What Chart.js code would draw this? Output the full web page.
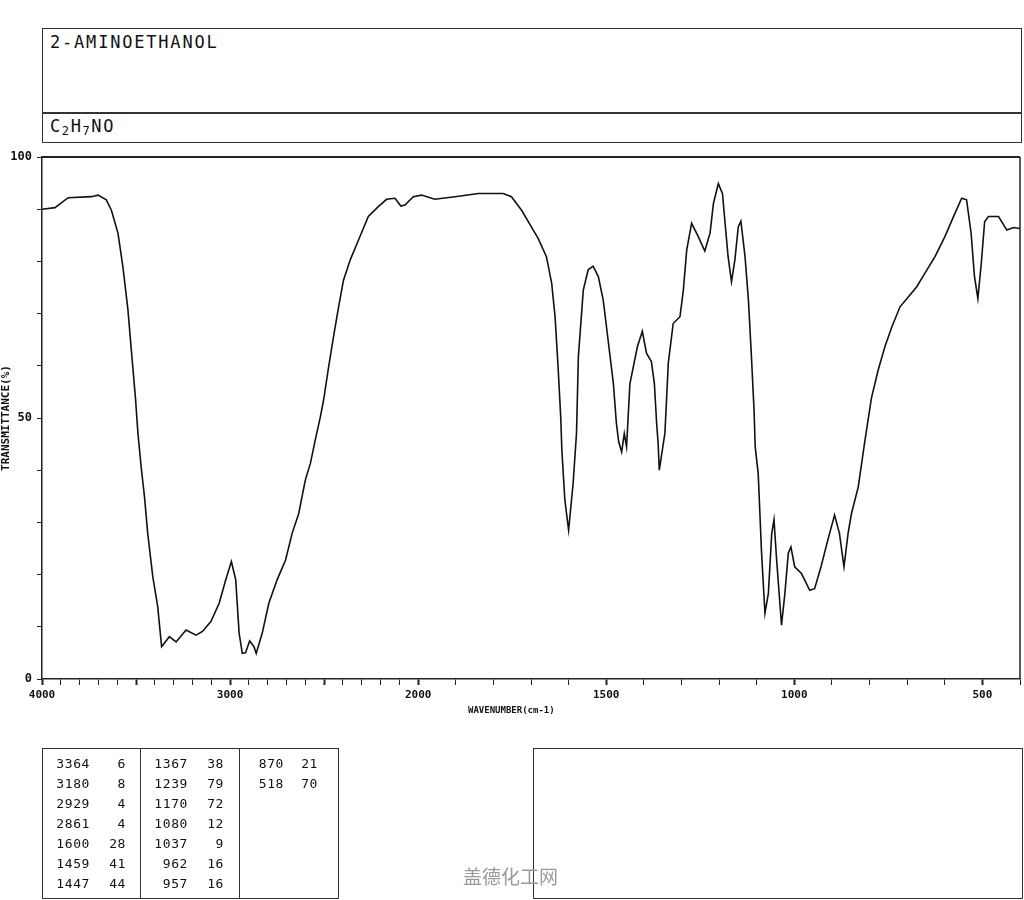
<!DOCTYPE html>
<html lang="en">
<head>
    <meta charset="UTF-8">
    <title>2-AMINOETHANOL IR</title>
    <script src="https://cdn.jsdelivr.net/npm/chart.js@4.4.0/dist/chart.umd.min.js"></script>
    <style>
        body {
            margin: 0;
            background: #fff;
            font-family: "DejaVu Sans Mono", monospace;
            color: #111;
        }
        .page {
            position: relative;
            width: 1024px;
            height: 900px;
            overflow: hidden;
        }
        .box {
            position: absolute;
            box-sizing: border-box;
            border: 1.5px solid #333;
        }
        .name {
            position: absolute;
            left: 50px;
            top: 32px;
            font-size: 17px;
            letter-spacing: 1.8px;
        }
        .formula {
            position: absolute;
            left: 50px;
            top: 116px;
            font-size: 17px;
            letter-spacing: 1.6px;
        }
        .formula sub {
            font-size: 12px;
            vertical-align: -3px;
        }
        #chart {
            position: absolute;
            left: 0;
            top: 0;
        }
        .xtitle {
            position: absolute;
            left: 468px;
            top: 705px;
            font-size: 9px;
            font-weight: bold;
        }
        .cell {
            position: absolute;
            font-size: 13px;
            letter-spacing: 0.6px;
            text-align: right;
            line-height: 14px;
        }
        .mark {
            position: absolute;
            left: 463px;
            top: 862px;
            font-family: "Noto Sans CJK SC", sans-serif;
            font-size: 19px;
            color: #9a9a9a;
        }
    </style>
</head>
<body>
    <div class="page">
        <div class="box" style="left:42px; top:28px; width:980px; height:86px;"></div>
        <div class="box" style="left:42px; top:112px; width:980px; height:31px;"></div>
        <div class="name">2-AMINOETHANOL</div>
        <div class="formula">C<sub>2</sub>H<sub>7</sub>NO</div>

        <canvas id="chart" width="1024" height="900"></canvas>
        <div class="xtitle">WAVENUMBER(cm-1)</div>

        <div class="box" style="left:42px; top:748px; width:297px; height:151px;"></div>
        <div class="box" style="left:140px; top:748px; width:100px; height:151px;"></div>
        <div class="box" style="left:533px; top:748px; width:490px; height:151px;"></div>
        <div id="peaks"></div>
        <div class="mark">盖德化工网</div>
    </div>

    <script>
        // 光谱数据
        const wavenumbers = [
            4000, 3931, 3861, 3737, 3702, 3658, 3631, 3596, 3570, 3543,
            3525, 3503, 3490, 3473, 3455, 3438, 3411, 3385, 3364, 3323,
            3287, 3234, 3181, 3147, 3102, 3058, 3023, 2993, 2970, 2952,
            2935, 2918, 2896, 2873, 2861, 2829, 2794, 2750, 2705, 2670,
            2635, 2600, 2573, 2547, 2520, 2503, 2476, 2450, 2423, 2397,
            2361, 2317, 2265, 2212, 2168, 2123, 2092, 2070, 2026, 1991,
            1956, 1902, 1840, 1774, 1752, 1725, 1699, 1681, 1659, 1645,
            1636, 1628, 1621, 1618, 1610, 1600, 1588, 1579, 1574, 1561,
            1548, 1535, 1521, 1508, 1495, 1481, 1473, 1467, 1459, 1452,
            1446, 1437, 1428, 1417, 1404, 1393, 1380, 1372, 1366, 1362,
            1359, 1344, 1335, 1322, 1304, 1295, 1286, 1273, 1255, 1238,
            1224, 1215, 1202, 1191, 1184, 1176, 1167, 1158, 1149, 1142,
            1131, 1122, 1114, 1107, 1104, 1096, 1087, 1078, 1069, 1060,
            1054, 1047, 1034, 1025, 1016, 1009, 999, 981, 959, 946,
            929, 911, 893, 880, 868, 857, 848, 830, 812, 795,
            777, 759, 741, 719, 697, 675, 653, 626, 600, 573,
            555, 542, 530, 521, 512, 503, 494, 484, 457, 435,
            417, 400
        ];
        const transmittance = [
            90.0, 90.3, 92.2, 92.4, 92.7, 91.8, 89.8, 85.4, 79.0, 70.7,
            63.0, 53.8, 47.1, 40.7, 34.9, 27.9, 19.6, 13.9, 6.2, 8.1,
            7.1, 9.4, 8.4, 9.1, 11.0, 14.5, 19.0, 22.5, 19.0, 8.8,
            4.9, 5.0, 7.3, 6.2, 4.9, 8.8, 14.5, 19.0, 22.8, 27.9,
            31.7, 38.1, 41.3, 45.8, 50.2, 53.4, 59.8, 65.6, 71.3, 76.4,
            80.3, 84.1, 88.6, 90.5, 91.9, 92.1, 90.6, 90.8, 92.4, 92.7,
            91.9, 92.4, 93.0, 93.0, 92.4, 89.8, 86.6, 84.4, 80.9, 75.8,
            69.4, 59.8, 50.2, 43.9, 34.3, 28.5, 37.5, 47.1, 61.8, 74.5,
            78.4, 79.1, 77.1, 72.6, 64.9, 56.6, 49.0, 45.5, 43.5, 47.0,
            44.5, 56.6, 59.8, 63.7, 66.6, 62.4, 60.8, 56.6, 49.0, 45.1,
            40.0, 47.1, 60.5, 68.1, 69.4, 74.5, 82.2, 87.3, 84.7, 82.0,
            85.4, 91.1, 94.9, 93.0, 87.3, 80.9, 76.1, 80.3, 86.6, 87.7,
            80.9, 72.6, 61.8, 51.5, 44.5, 39.4, 24.1, 12.6, 16.4, 27.9,
            30.5, 22.8, 10.3, 16.4, 24.1, 25.3, 21.5, 20.2, 17.0, 17.3,
            21.5, 26.6, 31.4, 27.9, 21.5, 27.9, 31.7, 36.8, 45.8, 53.8,
            59.2, 63.7, 67.4, 71.3, 73.2, 75.1, 77.7, 80.9, 84.7, 89.2,
            92.1, 91.8, 85.4, 77.1, 72.9, 79.6, 87.6, 88.6, 88.6, 86.0,
            86.5, 86.3
        ];

        // 刻度标签
        const xLabelValues = [4000, 3000, 2000, 1500, 1000, 500];
        const xLongTicks = [4000, 3500, 3000, 2500, 2000, 1500, 1000, 500];
        const yLabelValues = [0, 50, 100];

        // 峰值表
        const peakWavenumbers = [3364, 3180, 2929, 2861, 1600, 1459, 1447,
                                 1367, 1239, 1170, 1080, 1037, 962, 957,
                                 870, 518];
        const peakValues = [6, 8, 4, 4, 28, 41, 44,
                            38, 79, 72, 12, 9, 16, 16,
                            21, 70];

        // 横轴: 2000 以下比例放大两倍
        class IrScale extends Chart.LinearScale {
            static id = 'ir';
            static defaults = Chart.LinearScale.defaults;

            toDecimal(v) {
                const units = v >= 2000 ? 4000 - v : 2000 + (2000 - v) * 2;
                return units / 5200;
            }
            buildTicks() {
                const ticks = [];
                for (let v = 4000; v >= 400; v -= 100) {
                    ticks.push({ value: v });
                }
                return ticks;
            }
            getPixelForValue(value) {
                if (value === null || isNaN(value)) {
                    return NaN;
                }
                return this.getPixelForDecimal(this.toDecimal(value));
            }
            getValueForPixel(pixel) {
                const u = this.getDecimalForPixel(pixel) * 5200;
                return u <= 2000 ? 4000 - u : 2000 - (u - 2000) / 2;
            }
        }
        Chart.register(IrScale);

        // 上边框和右边框
        const framePlugin = {
            id: 'frame',
            afterDraw(chart) {
                const { ctx, chartArea } = chart;
                ctx.save();
                ctx.strokeStyle = '#222';
                ctx.lineWidth = 2;
                ctx.beginPath();
                ctx.moveTo(chartArea.left, chartArea.top);
                ctx.lineTo(chartArea.right, chartArea.top);
                ctx.stroke();
                ctx.lineWidth = 1.5;
                ctx.beginPath();
                ctx.moveTo(chartArea.right, chartArea.top);
                ctx.lineTo(chartArea.right, chartArea.bottom);
                ctx.stroke();
                ctx.restore();
            }
        };

        const points = wavenumbers.map((w, i) => ({ x: w, y: transmittance[i] }));

        new Chart(document.getElementById('chart'), {
            type: 'line',
            data: {
                datasets: [{
                    data: points,
                    borderColor: '#111',
                    borderWidth: 1.6,
                    pointRadius: 0,
                    tension: 0,
                    fill: false
                }]
            },
            options: {
                responsive: false,
                animation: false,
                devicePixelRatio: 1,
                layout: {
                    padding: { left: 0, top: 157, right: 2, bottom: 181 }
                },
                plugins: {
                    legend: { display: false },
                    tooltip: { enabled: false }
                },
                scales: {
                    x: {
                        type: 'ir',
                        min: 400,
                        max: 4000,
                        afterFit: (scale) => { scale.height = 40; },
                        border: { display: true, color: '#222', width: 1.5 },
                        grid: {
                            drawOnChartArea: false,
                            tickLength: 6,
                            tickColor: '#222',
                            tickWidth: (ctx) => xLongTicks.includes(ctx.tick && ctx.tick.value) ? 2 : 1
                        },
                        ticks: {
                            autoSkip: false,
                            maxRotation: 0,
                            padding: 4,
                            color: '#111',
                            font: { family: 'DejaVu Sans Mono', size: 11, weight: 'bold' },
                            callback: (v) => xLabelValues.includes(v) ? String(v) : ''
                        }
                    },
                    y: {
                        min: 0,
                        max: 100,
                        afterFit: (scale) => { scale.width = 42; },
                        border: { display: true, color: '#222', width: 1.5 },
                        grid: {
                            drawOnChartArea: false,
                            tickLength: 5,
                            tickColor: '#222'
                        },
                        ticks: {
                            stepSize: 10,
                            padding: 5,
                            color: '#111',
                            font: { family: 'DejaVu Sans Mono', size: 12, weight: 'bold' },
                            callback: (v) => yLabelValues.includes(v) ? String(v) : ''
                        },
                        title: {
                            display: true,
                            text: 'TRANSMITTANCE(%)',
                            color: '#111',
                            padding: 0,
                            font: { family: 'DejaVu Sans Mono', size: 11, weight: 'bold' }
                        }
                    }
                }
            },
            plugins: [framePlugin]
        });

        // 峰值表：每列七行
        const colRight = [[90, 126], [188, 224], [284, 318]];
        let html = '';
        peakWavenumbers.forEach((w, i) => {
            const col = Math.floor(i / 7);
            const row = i % 7;
            const top = 757 + row * 20;
            const [r1, r2] = colRight[col];
            html += '<div class="cell" style="left:' + (r1 - 40) + 'px; width:40px; top:' + top + 'px;">' + w + '</div>';
            html += '<div class="cell" style="left:' + (r2 - 30) + 'px; width:30px; top:' + top + 'px;">' + peakValues[i] + '</div>';
        });
        document.getElementById('peaks').innerHTML = html;
    </script>
</body>
</html>
